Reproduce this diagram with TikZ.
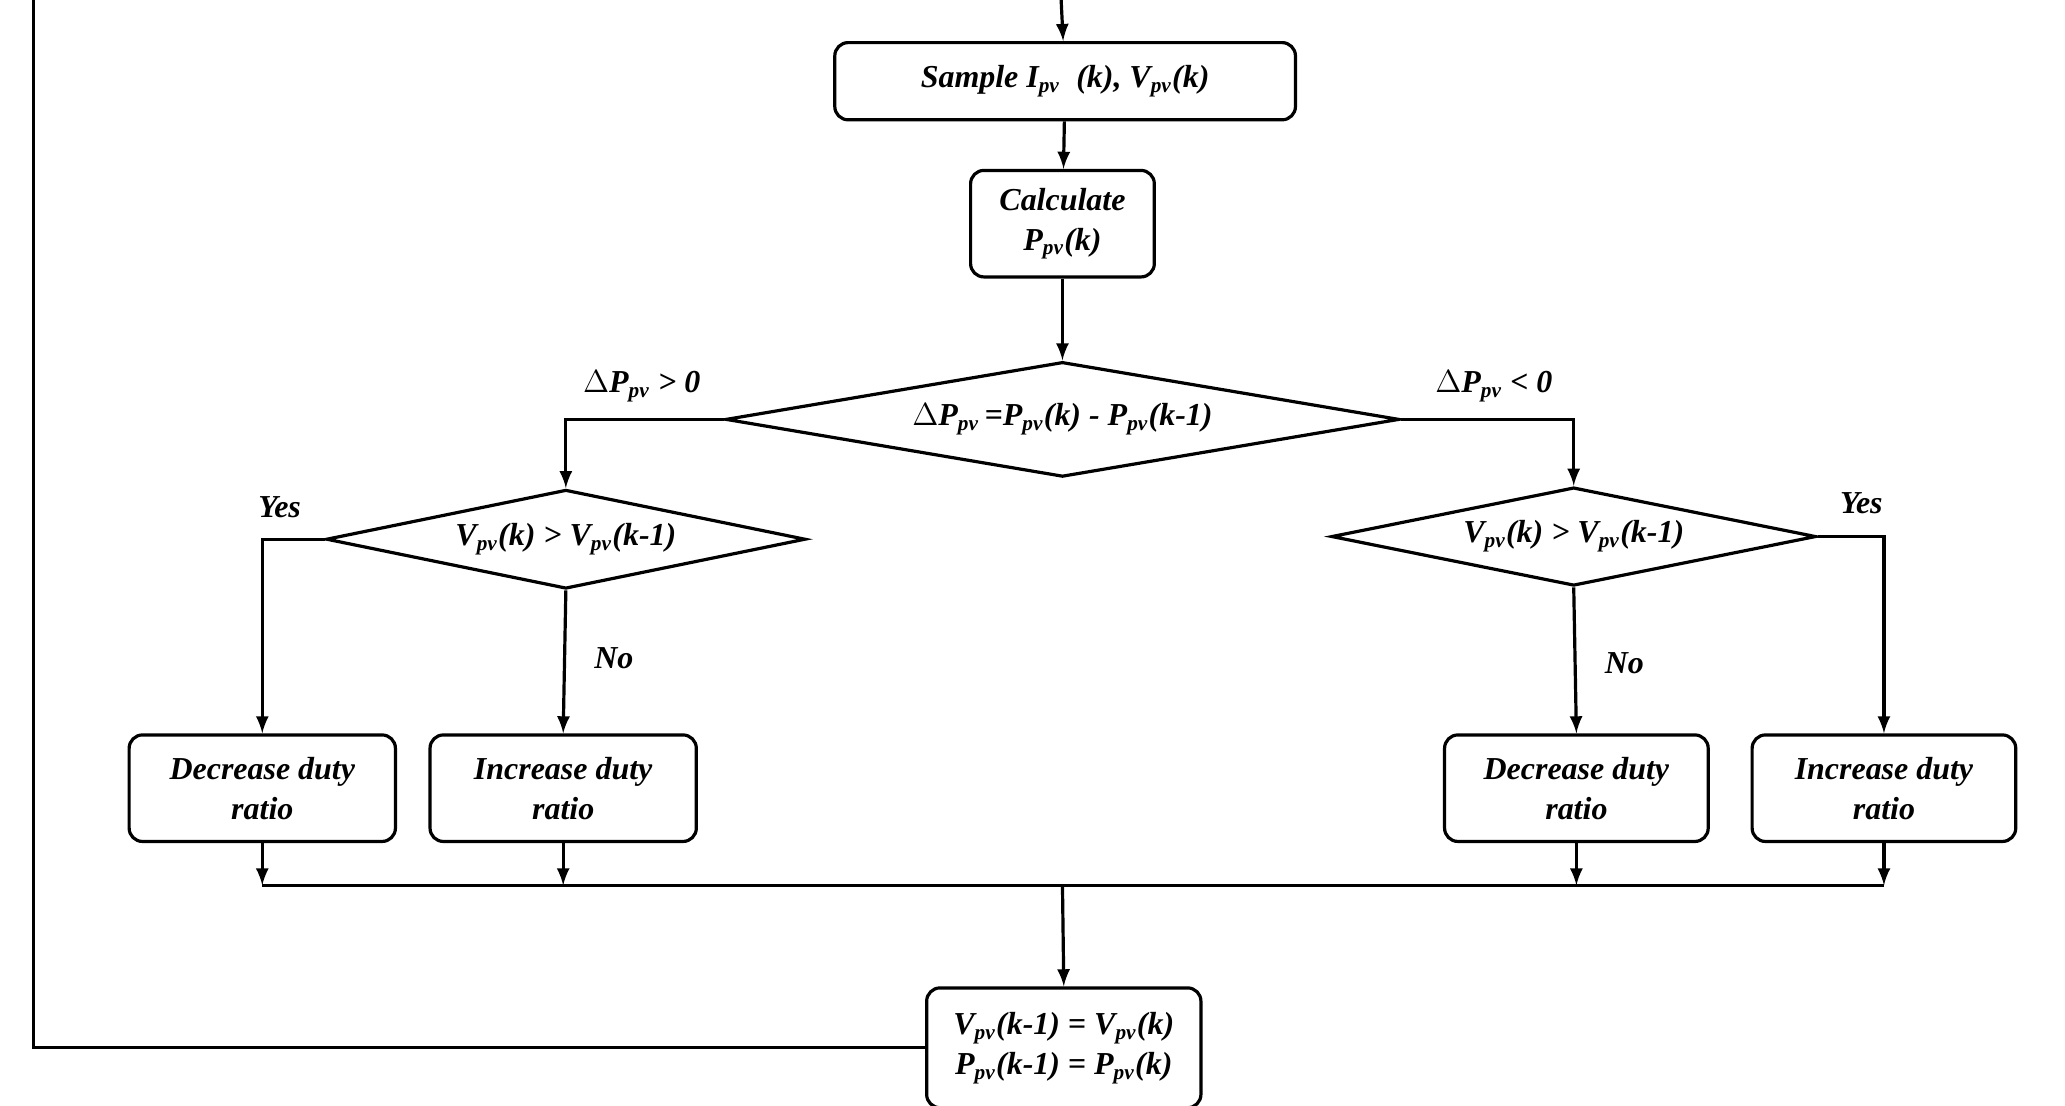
\documentclass[tikz,border=0pt]{standalone}
\usepackage{fontspec}
\setmainfont{Liberation Serif}
\usetikzlibrary{shapes.geometric}
\newcommand{\pv}{\textsubscript{pv}}
\tikzset{
  blk/.style={draw, rounded corners=5pt, line width=1.2pt, align=center, inner sep=2pt},
  dec/.style={draw, diamond, line width=1.2pt, inner sep=0pt, align=center},
  lbl/.style={font=\fontsize{12}{14}\selectfont\bfseries\itshape},
  flow/.style={line width=1.2pt, -latex}
}
\begin{document}
\begin{tikzpicture}[x=0.5pt,y=-0.5pt, font=\fontsize{12}{15}\selectfont\bfseries\itshape]
\useasboundingbox (0,0) rectangle (1551,830);
\coordinate (top) at (797,0);
\node[blk, minimum width=173pt, minimum height=29pt] (sample) at (800,61) {Sample I\pv\ \ (k), V\pv(k)};
\node[blk, minimum width=69pt, minimum height=40pt] (calc) at (798,168) {Calculate\\P\pv(k)};
\node[dec, aspect=3.6, minimum width=253pt] (d1) at (798,315) {$\Delta$P\pv\,=P\pv(k) - P\pv(k-1)};
\node[dec, aspect=3.27, minimum width=180pt] (dl) at (425,405) {V\pv(k) > V\pv(k-1)};
\node[dec, aspect=3.3, minimum width=182pt] (dr) at (1182,403) {V\pv(k) > V\pv(k-1)};
\node[blk, minimum width=100pt, minimum height=40pt] (l1) at (197,592) {Decrease duty\\ratio};
\node[blk, minimum width=100pt, minimum height=40pt] (l2) at (423,592) {Increase duty\\ratio};
\node[blk, minimum width=99pt, minimum height=40pt] (r1) at (1184,592) {Decrease duty\\ratio};
\node[blk, minimum width=99pt, minimum height=40pt] (r2) at (1415,592) {Increase duty\\ratio};
\node[blk, minimum width=103pt, minimum height=45pt] (upd) at (799,787) {V\pv(k-1) = V\pv(k)\\P\pv(k-1) = P\pv(k)};
\coordinate (mL) at (197,665);
\coordinate (mR) at (1415,665);
\coordinate (mC) at (798,665);
\coordinate (fb) at (25,0);
% labels
\node[lbl] at (482,290) {$\Delta$P\pv\ > 0};
\node[lbl] at (1122,290) {$\Delta$P\pv\ < 0};
\node[lbl] at (210,381) {Yes};
\node[lbl] at (461,494) {No};
\node[lbl] at (1220,498) {No};
\node[lbl] at (1398,378) {Yes};
% connectors
\draw[flow] (top) -- (sample);
\draw[flow] (sample) -- (calc);
\draw[flow] (calc) -- (d1);
\draw[flow] (d1.west) -| (dl.north);
\draw[flow] (d1.east) -| (dr.north);
\draw[flow] (dl.west) -| (l1.north);
\draw[flow] (dl.south) -- (l2.north);
\draw[flow] (dr.east) -| (r2.north);
\draw[flow] (dr.south) -- (r1.north);
\draw[line width=1.2pt] (mL) -- (mR);
\foreach \b in {l1,l2,r1,r2}
  \draw[flow] (\b.south) -- (\b.south |- mL);
\draw[flow] (mC) -- (upd.north);
\draw[line width=1.2pt] (upd.west) -| (fb);
\end{tikzpicture}
\end{document}
